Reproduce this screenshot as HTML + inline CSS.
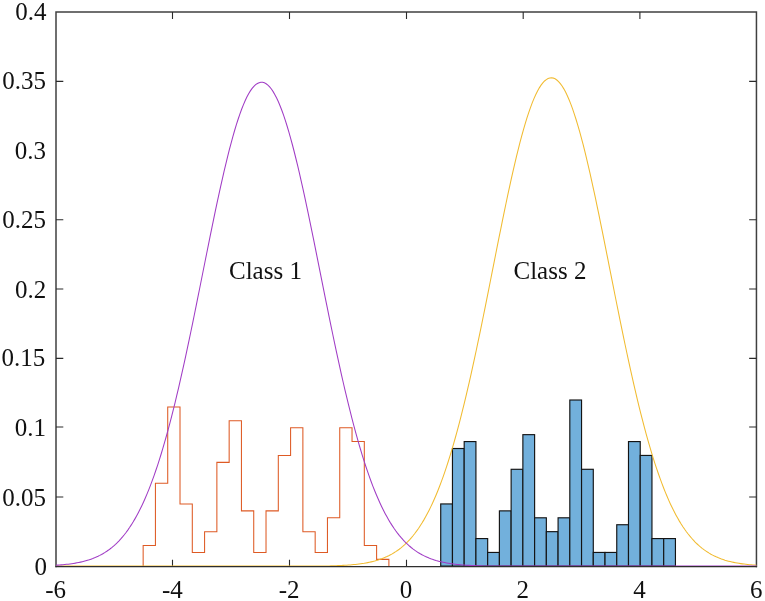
<!DOCTYPE html><html><head><meta charset="utf-8"><title>Class distributions</title>
<style>html,body{margin:0;padding:0;background:#fff}svg{display:block}text{font-family:"Liberation Serif","Times New Roman",serif;fill:#111}</style></head><body>
<svg width="765" height="601" viewBox="0 0 765 601">
<rect width="765" height="601" fill="#fff"/>
<g stroke="#404040" stroke-width="1.5" fill="none" stroke-linecap="square">
<path d="M56.00 566.55V12.00H756.45V566.55"/>
</g>
<g stroke="#2a2a2a" stroke-width="1.1" fill="none">
<path d="M172.50 566.55v-6.80 M172.50 12.00v7.10"/>
<path d="M289.50 566.55v-6.80 M289.50 12.00v7.10"/>
<path d="M406.50 566.55v-6.80 M406.50 12.00v7.10"/>
<path d="M523.20 566.55v-6.80 M523.20 12.00v7.10"/>
<path d="M639.90 566.55v-6.80 M639.90 12.00v7.10"/>
<path d="M56.00 497.00h7.30 M756.45 497.00h-7.30"/>
<path d="M56.00 427.00h7.30 M756.45 427.00h-7.30"/>
<path d="M56.00 358.40h7.30 M756.45 358.40h-7.30"/>
<path d="M56.00 289.00h7.30 M756.45 289.00h-7.30"/>
<path d="M56.00 219.80h7.30 M756.45 219.80h-7.30"/>
<path d="M56.00 81.40h7.30 M756.45 81.40h-7.30"/>
</g>
<g fill="#72b0dc" stroke="#141414" stroke-width="1.15">
<rect x="440.72" y="503.94" width="11.74" height="62.16"/>
<rect x="452.46" y="448.51" width="11.74" height="117.59"/>
<rect x="464.19" y="441.58" width="11.74" height="124.52"/>
<rect x="475.93" y="538.58" width="11.74" height="27.52"/>
<rect x="487.66" y="552.44" width="11.74" height="13.66"/>
<rect x="499.40" y="510.87" width="11.74" height="55.23"/>
<rect x="511.13" y="469.30" width="11.74" height="96.80"/>
<rect x="522.87" y="434.65" width="11.74" height="131.45"/>
<rect x="534.61" y="517.80" width="11.74" height="48.30"/>
<rect x="546.34" y="531.66" width="11.74" height="34.44"/>
<rect x="558.08" y="517.80" width="11.74" height="48.30"/>
<rect x="569.81" y="400.01" width="11.74" height="166.09"/>
<rect x="581.55" y="469.30" width="11.74" height="96.80"/>
<rect x="593.28" y="552.44" width="11.74" height="13.66"/>
<rect x="605.02" y="552.44" width="11.74" height="13.66"/>
<rect x="616.75" y="524.73" width="11.74" height="41.37"/>
<rect x="628.49" y="441.58" width="11.74" height="124.52"/>
<rect x="640.22" y="455.44" width="11.74" height="110.66"/>
<rect x="651.96" y="538.58" width="11.74" height="27.52"/>
<rect x="663.70" y="538.58" width="11.74" height="27.52"/>
</g>
<polyline fill="none" stroke="#de5a24" stroke-width="1.05" stroke-linejoin="miter" points="143.15,566.10 143.15,545.51 155.43,545.51 155.43,483.15 167.72,483.15 167.72,406.94 180.01,406.94 180.01,503.94 192.30,503.94 192.30,552.44 204.58,552.44 204.58,531.66 216.87,531.66 216.87,462.37 229.16,462.37 229.16,420.80 241.44,420.80 241.44,510.87 253.73,510.87 253.73,552.44 266.02,552.44 266.02,510.87 278.31,510.87 278.31,455.44 290.59,455.44 290.59,427.72 302.88,427.72 302.88,531.66 315.17,531.66 315.17,552.44 327.45,552.44 327.45,517.80 339.74,517.80 339.74,427.72 352.03,427.72 352.03,441.58 364.31,441.58 364.31,545.51 376.60,545.51 376.60,559.37 388.89,559.37 388.89,566.10"/>
<polyline fill="none" stroke="#f1bb30" stroke-width="1.05" points="56.00,566.10 57.75,566.10 59.50,566.10 61.25,566.10 63.00,566.10 64.76,566.10 66.51,566.10 68.26,566.10 70.01,566.10 71.76,566.10 73.51,566.10 75.26,566.10 77.01,566.10 78.76,566.10 80.52,566.10 82.27,566.10 84.02,566.10 85.77,566.10 87.52,566.10 89.27,566.10 91.02,566.10 92.77,566.10 94.52,566.10 96.28,566.10 98.03,566.10 99.78,566.10 101.53,566.10 103.28,566.10 105.03,566.10 106.78,566.10 108.53,566.10 110.28,566.10 112.04,566.10 113.79,566.10 115.54,566.10 117.29,566.10 119.04,566.10 120.79,566.10 122.54,566.10 124.29,566.10 126.05,566.10 127.80,566.10 129.55,566.10 131.30,566.10 133.05,566.10 134.80,566.10 136.55,566.10 138.30,566.10 140.05,566.10 141.81,566.10 143.56,566.10 145.31,566.10 147.06,566.10 148.81,566.10 150.56,566.10 152.31,566.10 154.06,566.10 155.81,566.10 157.57,566.10 159.32,566.10 161.07,566.10 162.82,566.10 164.57,566.10 166.32,566.10 168.07,566.10 169.82,566.10 171.57,566.10 173.33,566.10 175.08,566.10 176.83,566.10 178.58,566.10 180.33,566.10 182.08,566.10 183.83,566.10 185.58,566.10 187.33,566.10 189.09,566.10 190.84,566.10 192.59,566.10 194.34,566.10 196.09,566.10 197.84,566.10 199.59,566.10 201.34,566.10 203.09,566.10 204.85,566.10 206.60,566.10 208.35,566.10 210.10,566.10 211.85,566.10 213.60,566.10 215.35,566.10 217.10,566.10 218.85,566.10 220.61,566.10 222.36,566.10 224.11,566.10 225.86,566.10 227.61,566.10 229.36,566.10 231.11,566.10 232.86,566.10 234.61,566.10 236.37,566.10 238.12,566.10 239.87,566.10 241.62,566.10 243.37,566.10 245.12,566.10 246.87,566.10 248.62,566.10 250.37,566.10 252.13,566.10 253.88,566.10 255.63,566.10 257.38,566.10 259.13,566.10 260.88,566.10 262.63,566.10 264.38,566.10 266.13,566.10 267.89,566.10 269.64,566.10 271.39,566.10 273.14,566.10 274.89,566.10 276.64,566.10 278.39,566.10 280.14,566.10 281.90,566.10 283.65,566.10 285.40,566.10 287.15,566.10 288.90,566.10 290.65,566.10 292.40,566.10 294.15,566.10 295.90,566.10 297.66,566.10 299.41,566.10 301.16,566.10 302.91,566.10 304.66,566.10 306.41,566.10 308.16,566.10 309.91,566.10 311.66,566.10 313.42,566.10 315.17,566.10 316.92,566.10 318.67,566.10 320.42,566.08 322.17,566.06 323.92,566.03 325.67,566.00 327.42,565.96 329.18,565.92 330.93,565.87 332.68,565.82 334.43,565.77 336.18,565.70 337.93,565.64 339.68,565.56 341.43,565.48 343.18,565.38 344.94,565.28 346.69,565.17 348.44,565.05 350.19,564.91 351.94,564.76 353.69,564.60 355.44,564.42 357.19,564.23 358.94,564.01 360.70,563.78 362.45,563.52 364.20,563.25 365.95,562.94 367.70,562.61 369.45,562.26 371.20,561.87 372.95,561.44 374.70,560.99 376.46,560.49 378.21,559.95 379.96,559.37 381.71,558.75 383.46,558.07 385.21,557.34 386.96,556.56 388.71,555.72 390.46,554.81 392.22,553.84 393.97,552.80 395.72,551.68 397.47,550.48 399.22,549.21 400.97,547.84 402.72,546.39 404.47,544.84 406.23,543.19 407.98,541.43 409.73,539.57 411.48,537.59 413.23,535.49 414.98,533.26 416.73,530.91 418.48,528.43 420.23,525.80 421.99,523.03 423.74,520.12 425.49,517.05 427.24,513.83 428.99,510.44 430.74,506.89 432.49,503.16 434.24,499.27 435.99,495.19 437.75,490.94 439.50,486.50 441.25,481.88 443.00,477.07 444.75,472.07 446.50,466.87 448.25,461.48 450.00,455.90 451.75,450.13 453.51,444.16 455.26,438.00 457.01,431.65 458.76,425.11 460.51,418.38 462.26,411.47 464.01,404.39 465.76,397.12 467.51,389.69 469.27,382.10 471.02,374.35 472.77,366.46 474.52,358.42 476.27,350.25 478.02,341.96 479.77,333.56 481.52,325.07 483.27,316.48 485.03,307.81 486.78,299.09 488.53,290.31 490.28,281.50 492.03,272.67 493.78,263.84 495.53,255.02 497.28,246.22 499.03,237.47 500.79,228.78 502.54,220.17 504.29,211.65 506.04,203.25 507.79,194.97 509.54,186.85 511.29,178.90 513.04,171.12 514.79,163.56 516.55,156.21 518.30,149.09 520.05,142.24 521.80,135.65 523.55,129.35 525.30,123.35 527.05,117.67 528.80,112.32 530.55,107.31 532.31,102.66 534.06,98.38 535.81,94.48 537.56,90.97 539.31,87.86 541.06,85.16 542.81,82.87 544.56,81.00 546.32,79.56 548.07,78.55 549.82,77.97 551.57,77.83 553.32,78.12 555.07,78.84 556.82,80.00 558.57,81.58 560.32,83.59 562.08,86.01 563.83,88.85 565.58,92.10 567.33,95.74 569.08,99.77 570.83,104.17 572.58,108.94 574.33,114.06 576.08,119.53 577.84,125.32 579.59,131.42 581.34,137.81 583.09,144.49 584.84,151.44 586.59,158.63 588.34,166.05 590.09,173.69 591.84,181.53 593.60,189.54 595.35,197.72 597.10,206.03 598.85,214.48 600.60,223.03 602.35,231.67 604.10,240.38 605.85,249.15 607.60,257.96 609.36,266.78 611.11,275.62 612.86,284.44 614.61,293.24 616.36,302.00 618.11,310.71 619.86,319.35 621.61,327.91 623.36,336.38 625.12,344.74 626.87,352.99 628.62,361.11 630.37,369.10 632.12,376.95 633.87,384.65 635.62,392.19 637.37,399.56 639.12,406.77 640.88,413.80 642.63,420.64 644.38,427.31 646.13,433.79 647.88,440.07 649.63,446.17 651.38,452.08 653.13,457.79 654.88,463.30 656.64,468.62 658.39,473.75 660.14,478.69 661.89,483.44 663.64,488.00 665.39,492.38 667.14,496.57 668.89,500.59 670.64,504.42 672.40,508.09 674.15,511.59 675.90,514.92 677.65,518.09 679.40,521.11 681.15,523.97 682.90,526.69 684.65,529.27 686.41,531.71 688.16,534.02 689.91,536.20 691.66,538.26 693.41,540.20 695.16,542.03 696.91,543.75 698.66,545.37 700.41,546.88 702.17,548.31 703.92,549.64 705.67,550.89 707.42,552.06 709.17,553.15 710.92,554.17 712.67,555.12 714.42,556.00 716.17,556.83 717.93,557.59 719.68,558.30 721.43,558.96 723.18,559.57 724.93,560.14 726.68,560.66 728.43,561.14 730.18,561.59 731.93,562.00 733.69,562.38 735.44,562.73 737.19,563.05 738.94,563.34 740.69,563.61 742.44,563.86 744.19,564.09 745.94,564.29 747.69,564.48 749.45,564.66 751.20,564.81 752.95,564.96 754.70,565.09 756.45,565.21"/>
<polyline fill="none" stroke="#a03cc5" stroke-width="1.05" points="56.00,565.24 57.75,565.13 59.50,565.00 61.25,564.86 63.00,564.70 64.76,564.54 66.51,564.35 68.26,564.15 70.01,563.93 71.76,563.69 73.51,563.42 75.26,563.14 77.01,562.82 78.76,562.49 80.52,562.12 82.27,561.72 84.02,561.28 85.77,560.81 87.52,560.30 89.27,559.75 91.02,559.15 92.77,558.51 94.52,557.82 96.28,557.07 98.03,556.27 99.78,555.40 101.53,554.47 103.28,553.48 105.03,552.41 106.78,551.27 108.53,550.05 110.28,548.74 112.04,547.35 113.79,545.86 115.54,544.28 117.29,542.60 119.04,540.81 120.79,538.91 122.54,536.89 124.29,534.75 126.05,532.49 127.80,530.10 129.55,527.57 131.30,524.91 133.05,522.10 134.80,519.14 136.55,516.03 138.30,512.76 140.05,509.32 141.81,505.72 143.56,501.96 145.31,498.01 147.06,493.89 148.81,489.60 150.56,485.11 152.31,480.44 154.06,475.59 155.81,470.54 157.57,465.31 159.32,459.88 161.07,454.26 162.82,448.45 164.57,442.44 166.32,436.25 168.07,429.87 169.82,423.30 171.57,416.55 173.33,409.62 175.08,402.52 176.83,395.24 178.58,387.81 180.33,380.21 182.08,372.46 183.83,364.57 185.58,356.55 187.33,348.40 189.09,340.13 190.84,331.76 192.59,323.29 194.34,314.75 196.09,306.13 197.84,297.46 199.59,288.75 201.34,280.01 203.09,271.25 204.85,262.50 206.60,253.77 208.35,245.07 210.10,236.43 211.85,227.85 213.60,219.36 215.35,210.97 217.10,202.70 218.85,194.57 220.61,186.60 222.36,178.79 224.11,171.19 225.86,163.79 227.61,156.61 229.36,149.68 231.11,143.01 232.86,136.61 234.61,130.50 236.37,124.70 238.12,119.22 239.87,114.08 241.62,109.28 243.37,104.84 245.12,100.78 246.87,97.09 248.62,93.80 250.37,90.90 252.13,88.42 253.88,86.34 255.63,84.69 257.38,83.46 259.13,82.66 260.88,82.29 262.63,82.34 264.38,82.83 266.13,83.75 267.89,85.09 269.64,86.86 271.39,89.04 273.14,91.64 274.89,94.64 276.64,98.04 278.39,101.82 280.14,105.99 281.90,110.53 283.65,115.42 285.40,120.65 287.15,126.22 288.90,132.10 290.65,138.29 292.40,144.76 294.15,151.50 295.90,158.50 297.66,165.74 299.41,173.19 301.16,180.86 302.91,188.71 304.66,196.72 306.41,204.89 308.16,213.19 309.91,221.61 311.66,230.13 313.42,238.73 315.17,247.39 316.92,256.10 318.67,264.84 320.42,273.59 322.17,282.34 323.92,291.08 325.67,299.78 327.42,308.44 329.18,317.03 330.93,325.56 332.68,334.00 334.43,342.34 336.18,350.58 337.93,358.70 339.68,366.69 341.43,374.54 343.18,382.25 344.94,389.80 346.69,397.20 348.44,404.43 350.19,411.49 351.94,418.37 353.69,425.07 355.44,431.59 357.19,437.92 358.94,444.06 360.70,450.02 362.45,455.78 364.20,461.35 365.95,466.72 367.70,471.91 369.45,476.90 371.20,481.71 372.95,486.33 374.70,490.76 376.46,495.01 378.21,499.08 379.96,502.98 381.71,506.70 383.46,510.25 385.21,513.64 386.96,516.87 388.71,519.94 390.46,522.86 392.22,525.63 393.97,528.26 395.72,530.75 397.47,533.11 399.22,535.34 400.97,537.44 402.72,539.43 404.47,541.30 406.23,543.06 407.98,544.71 409.73,546.27 411.48,547.73 413.23,549.10 414.98,550.38 416.73,551.58 418.48,552.70 420.23,553.75 421.99,554.73 423.74,555.64 425.49,556.49 427.24,557.27 428.99,558.01 430.74,558.69 432.49,559.32 434.24,559.90 435.99,560.44 437.75,560.94 439.50,561.40 441.25,561.83 443.00,562.22 444.75,562.58 446.50,562.91 448.25,563.22 450.00,563.50 451.75,563.75 453.51,563.99 455.26,564.20 457.01,564.40 458.76,564.58 460.51,564.75 462.26,564.90 464.01,565.03 465.76,565.16 467.51,565.27 469.27,565.37 471.02,565.47 472.77,565.55 474.52,565.63 476.27,565.70 478.02,565.76 479.77,565.82 481.52,565.87 483.27,565.91 485.03,565.95 486.78,565.99 488.53,566.02 490.28,566.05 492.03,566.08 493.78,566.10 495.53,566.10 497.28,566.10 499.03,566.10 500.79,566.10 502.54,566.10 504.29,566.10 506.04,566.10 507.79,566.10 509.54,566.10 511.29,566.10 513.04,566.10 514.79,566.10 516.55,566.10 518.30,566.10 520.05,566.10 521.80,566.10 523.55,566.10 525.30,566.10 527.05,566.10 528.80,566.10 530.55,566.10 532.31,566.10 534.06,566.10 535.81,566.10 537.56,566.10 539.31,566.10 541.06,566.10 542.81,566.10 544.56,566.10 546.32,566.10 548.07,566.10 549.82,566.10 551.57,566.10 553.32,566.10 555.07,566.10 556.82,566.10 558.57,566.10 560.32,566.10 562.08,566.10 563.83,566.10 565.58,566.10 567.33,566.10 569.08,566.10 570.83,566.10 572.58,566.10 574.33,566.10 576.08,566.10 577.84,566.10 579.59,566.10 581.34,566.10 583.09,566.10 584.84,566.10 586.59,566.10 588.34,566.10 590.09,566.10 591.84,566.10 593.60,566.10 595.35,566.10 597.10,566.10 598.85,566.10 600.60,566.10 602.35,566.10 604.10,566.10 605.85,566.10 607.60,566.10 609.36,566.10 611.11,566.10 612.86,566.10 614.61,566.10 616.36,566.10 618.11,566.10 619.86,566.10 621.61,566.10 623.36,566.10 625.12,566.10 626.87,566.10 628.62,566.10 630.37,566.10 632.12,566.10 633.87,566.10 635.62,566.10 637.37,566.10 639.12,566.10 640.88,566.10 642.63,566.10 644.38,566.10 646.13,566.10 647.88,566.10 649.63,566.10 651.38,566.10 653.13,566.10 654.88,566.10 656.64,566.10 658.39,566.10 660.14,566.10 661.89,566.10 663.64,566.10 665.39,566.10 667.14,566.10 668.89,566.10 670.64,566.10 672.40,566.10 674.15,566.10 675.90,566.10 677.65,566.10 679.40,566.10 681.15,566.10 682.90,566.10 684.65,566.10 686.41,566.10 688.16,566.10 689.91,566.10 691.66,566.10 693.41,566.10 695.16,566.10 696.91,566.10 698.66,566.10 700.41,566.10 702.17,566.10 703.92,566.10 705.67,566.10 707.42,566.10 709.17,566.10 710.92,566.10 712.67,566.10 714.42,566.10 716.17,566.10 717.93,566.10 719.68,566.10 721.43,566.10 723.18,566.10 724.93,566.10 726.68,566.10 728.43,566.10 730.18,566.10 731.93,566.10 733.69,566.10 735.44,566.10 737.19,566.10 738.94,566.10 740.69,566.10 742.44,566.10 744.19,566.10 745.94,566.10 747.69,566.10 749.45,566.10 751.20,566.10 752.95,566.10 754.70,566.10 756.45,566.10"/>
<path d="M56.00 566.55H756.45" stroke="#2e2e2e" stroke-width="1.2" stroke-linecap="square"/>
<g font-size="26">
<text transform="translate(55.70 598.30) scale(0.9615 1)" text-anchor="middle">-6</text>
<text transform="translate(172.44 598.30) scale(0.9615 1)" text-anchor="middle">-4</text>
<text transform="translate(289.18 598.30) scale(0.9615 1)" text-anchor="middle">-2</text>
<text transform="translate(405.93 598.30) scale(0.9615 1)" text-anchor="middle">0</text>
<text transform="translate(522.67 598.30) scale(0.9615 1)" text-anchor="middle">2</text>
<text transform="translate(639.41 598.30) scale(0.9615 1)" text-anchor="middle">4</text>
<text transform="translate(756.15 598.30) scale(0.9615 1)" text-anchor="middle">6</text>
<text transform="translate(46.90 574.90) scale(0.9615 1)" text-anchor="end">0</text>
<text transform="translate(45.90 506.30) scale(0.9615 1)" text-anchor="end">0.05</text>
<text transform="translate(45.90 435.70) scale(0.9615 1)" text-anchor="end">0.1</text>
<text transform="translate(45.30 366.30) scale(0.9615 1)" text-anchor="end">0.15</text>
<text transform="translate(46.20 297.80) scale(0.9615 1)" text-anchor="end">0.2</text>
<text transform="translate(45.90 228.20) scale(0.9615 1)" text-anchor="end">0.25</text>
<text transform="translate(45.90 159.20) scale(0.9615 1)" text-anchor="end">0.3</text>
<text transform="translate(45.90 89.30) scale(0.9615 1)" text-anchor="end">0.35</text>
<text transform="translate(46.50 20.00) scale(0.9615 1)" text-anchor="end">0.4</text>
<text transform="translate(229.00 278.60) scale(0.9615 1)" text-anchor="start">Class 1</text>
<text transform="translate(513.50 278.60) scale(0.9615 1)" text-anchor="start">Class 2</text>
</g>
</svg></body></html>
